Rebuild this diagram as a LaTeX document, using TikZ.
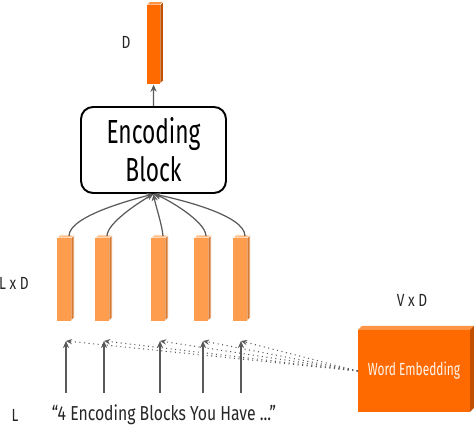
\documentclass[tikz,border=0pt]{standalone}
\usepackage{fontspec}
\setmainfont[FakeStretch=0.78]{Fira Sans}
\newfontfamily\narrowfont[FakeStretch=0.68]{Fira Sans}
\usepackage{tikz}
\usetikzlibrary{arrows.meta, calc}

\definecolor{embedfront}{HTML}{FF6A00}
\definecolor{embedside}{HTML}{C24E00}
\definecolor{embedtop}{HTML}{FF9445}
\definecolor{barfront}{HTML}{FF9D4F}
\definecolor{barside}{HTML}{D9782F}
\definecolor{bartop}{HTML}{FFC08C}
\definecolor{wire}{HTML}{5A5A5A}

\begin{document}
\begin{tikzpicture}[x=0.02cm, y=-0.02cm,
  lbl/.style={font=\fontsize{10}{12}\selectfont, text=black!85},
  wires/.style={wire, line width=0.7pt, -{Stealth[length=4pt, width=3.5pt]}},
  dots/.style={wire, dotted, line width=0.6pt, -{Stealth[length=3.5pt, width=3pt]}}]
  \useasboundingbox (0,0) rectangle (474,435);

  % Cuboid macro: name, left x, top y, width, height, depth, colour prefix
  \newcommand{\cuboid}[7]{
    \fill[#7top, draw=white, line width=0.3pt] (#2,#3) -- (#2+#6,#3-#6) -- (#2+#4+#6,#3-#6) -- (#2+#4,#3) -- cycle;
    \fill[#7side, draw=white, line width=0.3pt] (#2+#4,#3) -- (#2+#4+#6,#3-#6) -- (#2+#4+#6,#3+#5-#6) -- (#2+#4,#3+#5) -- cycle;
    \node[fill=#7front, inner sep=0, minimum width={#4*0.02cm}, minimum height={#5*0.02cm}, anchor=north west] (#1) at (#2,#3) {};
    \coordinate (#1top) at (#2+#4-2,#3-2);
  }

  % Output vector
  \cuboid{out}{146.5}{5}{13.5}{79}{3.5}{embed}
  \node[lbl] (dlbl) at (126,42) {D};

  % Encoding block
  \node[draw, line width=1.1pt, rounded corners=0.24cm, minimum width=2.9cm, minimum height=1.72cm,
        align=center, font=\narrowfont\fontsize{19}{21.5}\selectfont, fill=white] (enc) at (153.5,150) {Encoding\\Block};
  \draw[wires] (enc.north) -- (out.south);

  % Input vectors
  \cuboid{v1}{57}{238}{14}{83}{3}{bar}
  \cuboid{v2}{95}{238}{14}{83}{3}{bar}
  \cuboid{v3}{151}{238}{14}{83}{3}{bar}
  \cuboid{v4}{194}{238}{14}{83}{3}{bar}
  \cuboid{v5}{233}{238}{14}{83}{3}{bar}
  \node[lbl] (lxd) at (14,283) {L x D};

  \draw[wires] (v1top) to[out=90, in=195, looseness=0.55] (enc.south);
  \draw[wires] (v2top) to[out=90, in=210, looseness=0.55] (enc.south);
  \draw[wires] (v3top) to[out=95, in=-80, looseness=0.7] (enc.south);
  \draw[wires] (v4top) to[out=90, in=-20, looseness=0.55] (enc.south);
  \draw[wires] (v5top) to[out=90, in=-12, looseness=0.55] (enc.south);

  % Word embedding table
  \fill[embedtop] (358,330) -- (362,326) -- (474,326) -- (470,330) -- cycle;
  \fill[embedside] (470,330) -- (474,326) -- (474,408) -- (470,412) -- cycle;
  \node[fill=embedfront, inner sep=0, minimum width=2.24cm, minimum height=1.64cm,
        font=\narrowfont\fontsize{10}{12}\selectfont, text=orange!8] (emb) at (414,371) {Word Embedding};
  \node[lbl] (vxd) at (412,300) {V x D};

  % Token lookups
  \foreach \i/\x in {1/66, 2/104, 3/160, 4/203, 5/241} {
    \coordinate (s\i) at (\x,393);
    \coordinate (t\i) at (\x,341);
    \draw[wires] (s\i) -- (t\i);
    \draw[dots] (emb.west) -- (t\i);
  }

  \node[lbl] (llbl) at (15,415) {L};
  \node[font=\fontsize{11.5}{13}\selectfont, text=black!85] (sent) at (164,415) {“4 Encoding Blocks You Have ...”};
\end{tikzpicture}
\end{document}
